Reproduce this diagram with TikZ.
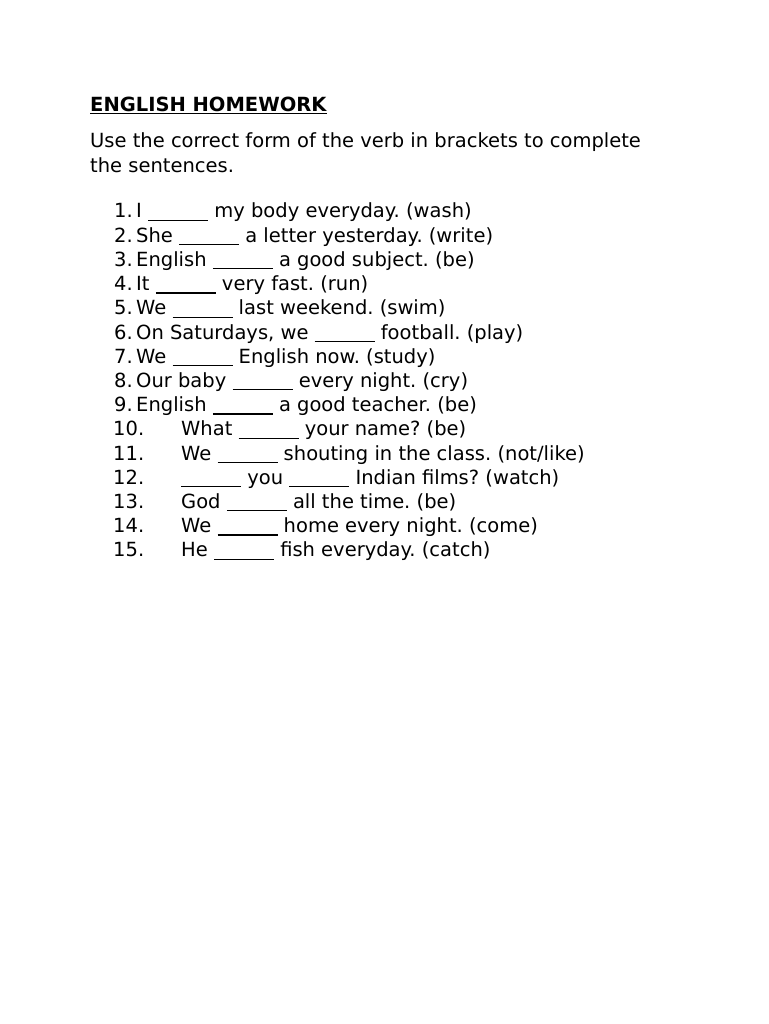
\documentclass[tikz,border=0pt]{standalone}
\usepackage{fontspec}
\setmainfont{DejaVu Sans}
\newcommand{\blank}{\rule[-3pt]{60pt}{1.2pt}}
\frenchspacing
\begin{document}
\frenchspacing
\begin{tikzpicture}[x=1pt,y=1pt,
  txt/.style={anchor=base west,inner sep=0pt,font=\fontsize{19.5}{22}\selectfont},
  num/.style={anchor=base east,inner sep=0pt,font=\fontsize{19.5}{22}\selectfont}]
\useasboundingbox (0,0) rectangle (768,-1024);
\fill[white] (0,0) rectangle (768,-1024);
\node[txt,font=\fontsize{19.5}{22}\selectfont\bfseries] (title) at (90,-112) {\underline{ENGLISH HOMEWORK}};
\node[txt] (i1) at (90,-148) {Use the correct form of the verb in brackets to complete};
\node[txt] (i2) at (90,-173) {the sentences.};
\foreach \n/\t [count=\k] in {
 1./{I \blank{} my body everyday. (wash)},
 2./{She \blank{} a letter yesterday. (write)},
 3./{English \blank{} a good subject. (be)},
 4./{It \blank{} very fast. (run)},
 5./{We \blank{} last weekend. (swim)},
 6./{On Saturdays, we \blank{} football. (play)},
 7./{We \blank{} English now. (study)},
 8./{Our baby \blank{} every night. (cry)},
 9./{English \blank{} a good teacher. (be)}}
{ \node[num] (n\k) at (133,{-218-24.2*(\k-1)}) {\n};
  \node[txt] (t\k) at (136,{-218-24.2*(\k-1)}) {\t}; }
\foreach \n/\t [count=\k from 10] in {
 10./{What \blank{} your name? (be)},
 11./{We \blank{} shouting in the class. (not/like)},
 12./{\blank{} you \blank{} Indian films? (watch)},
 13./{God \blank{} all the time. (be)},
 14./{We \blank{} home every night. (come)},
 15./{He \blank{} fish everyday. (catch)}}
{ \node[txt] (n\k) at (113,{-218-24.2*(\k-1)}) {\n};
  \node[txt] (t\k) at (181,{-218-24.2*(\k-1)}) {\t}; }
\end{tikzpicture}
\end{document}
